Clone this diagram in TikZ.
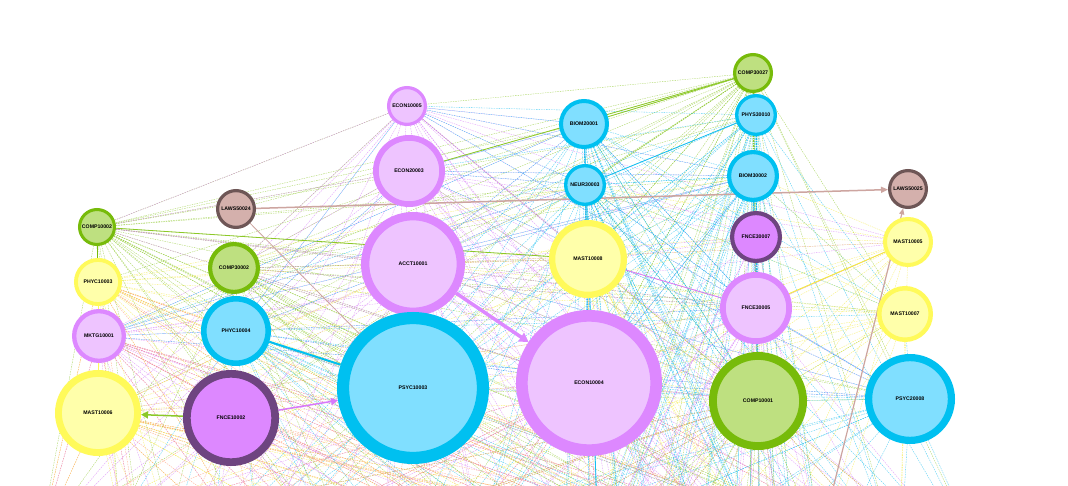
\documentclass[tikz,border=0pt]{standalone}
\usepackage{fontspec}
\setmainfont{Liberation Sans}
\usetikzlibrary{arrows.meta}
\pgfdeclarelayer{bg}
\pgfsetlayers{bg,main}
\definecolor{grF}{RGB}{190,224,128}\definecolor{grS}{RGB}{119,187,10}
\definecolor{yeF}{RGB}{255,255,170}\definecolor{yeS}{RGB}{255,250,90}
\definecolor{puF}{RGB}{238,196,255}\definecolor{puS}{RGB}{221,136,255}
\definecolor{blF}{RGB}{128,223,255}\definecolor{blS}{RGB}{0,192,240}
\definecolor{brF}{RGB}{212,176,172}\definecolor{brS}{RGB}{110,86,86}
\definecolor{dpF}{RGB}{221,136,255}\definecolor{dpS}{RGB}{110,68,128}
\definecolor{eGr}{RGB}{140,200,40}
\definecolor{ePu}{RGB}{215,120,250}
\definecolor{eBl}{RGB}{20,190,240}
\definecolor{eYe}{RGB}{245,235,60}
\definecolor{eOr}{RGB}{255,150,110}
\definecolor{eBr}{RGB}{205,165,160}
\newcommand\cnode[6]{\node[circle,inner sep=0pt,#5,line width={0.16*#4},minimum size={1.84*#4},font=\fontsize{5.2}{6}\selectfont\bfseries] (#1) at (#2,#3) {#6};}
\begin{document}
\begin{tikzpicture}[x=1pt,y=-1pt,
  gr/.style={fill=grF,draw=grS}, ye/.style={fill=yeF,draw=yeS},
  pu/.style={fill=puF,draw=puS}, bl/.style={fill=blF,draw=blS},
  br/.style={fill=brF,draw=brS}, dp/.style={fill=dpF,draw=dpS},
  de/.style={line width=0.35pt,dash pattern=on 1.5pt off 1pt,opacity=0.75},
  se/.style={line width=0.8pt}]
\useasboundingbox (0,0) rectangle (1068,486);
% nodes
\cnode{comp10002}{97}{227}{19}{gr}{COMP10002}
\cnode{phyc10003}{98}{282}{24}{ye}{PHYC10003}
\cnode{mktg}{99}{336}{27}{pu}{MKTG10001}
\cnode{mast6}{98}{413}{43}{ye}{MAST10006}
\cnode{laws24}{236}{209}{20}{br}{LAWS50024}
\cnode{comp30002}{234}{268}{26}{gr}{COMP30002}
\cnode{phyc4}{236}{331}{35}{bl}{PHYC10004}
\cnode{fnce2}{231}{418}{48}{dp}{FNCE10002}
\cnode{econ5}{407}{106}{20}{pu}{ECON10005}
\cnode{econ3}{409}{171}{36}{pu}{ECON20003}
\cnode{acct}{413}{264}{52}{pu}{ACCT10001}
\cnode{psyc3}{413}{388}{76}{bl}{PSYC10003}
\cnode{biom1}{584}{124}{25}{bl}{BIOM20001}
\cnode{neur}{585}{185}{21}{bl}{NEUR30003}
\cnode{mast8}{588}{259}{39}{ye}{MAST10008}
\cnode{econ4}{589}{383}{73}{pu}{ECON10004}
\cnode{comp27}{753}{73}{20}{gr}{COMP30027}
\cnode{phys}{756}{115}{21}{bl}{PHYS30010}
\cnode{biom2}{753}{176}{26}{bl}{BIOM30002}
\cnode{fnce7}{756}{237}{26}{dp}{FNCE30007}
\cnode{fnce5}{756}{308}{36}{pu}{FNCE30005}
\cnode{comp1}{758}{401}{49}{gr}{COMP10001}
\cnode{laws25}{908}{189}{20}{br}{LAWS50025}
\cnode{mast5}{908}{242}{25}{ye}{MAST10005}
\cnode{mast7}{905}{314}{28}{ye}{MAST10007}
\cnode{psyc8}{910}{399}{45}{bl}{PSYC20008}
% off-view endpoints
\coordinate (o1) at (40,540);  \coordinate (o2) at (150,600);
\coordinate (o3) at (260,560); \coordinate (o4) at (380,620);
\coordinate (o5) at (480,540); \coordinate (o6) at (600,600);
\coordinate (o7) at (700,540); \coordinate (o8) at (800,620);
\coordinate (o9) at (900,560); \coordinate (o10) at (1000,600);
\coordinate (o11) at (620,520); \coordinate (o12) at (760,560);
\coordinate (p1) at (560,620); \coordinate (p2) at (590,560);
\coordinate (p3) at (630,640); \coordinate (p4) at (660,580);
\coordinate (p5) at (730,620); \coordinate (p6) at (750,520);
\coordinate (p7) at (780,600); \coordinate (p8) at (820,540);
\coordinate (p9) at (120,520); \coordinate (p10) at (200,640);
\coordinate (p11) at (330,540); \coordinate (p12) at (440,600);
\begin{pgfonlayer}{bg}
\fill[white] (0,0) rectangle (1068,486);
\clip (0,0) rectangle (1068,486);
% green dashed
\foreach \s in {comp10002,comp30002,comp27,comp1}
  \foreach \t in {econ5,econ3,acct,psyc3,biom1,neur,mast8,econ4,phys,biom2,fnce5,mast7,psyc8,o1,o2,o3,o4,o5,o6,o7,o8,o9,o10,o11,o12}
    \draw[de,eGr] (\s) -- (\t);
\foreach \t in {laws24,comp10002,phyc4,fnce2,mast6,mktg,phyc10003}
  \draw[de,eGr] (comp27) -- (\t);
% purple dashed
\foreach \s in {econ5,econ3,acct,econ4,mktg,fnce5}
  \foreach \t in {comp10002,comp30002,phyc4,biom1,neur,mast8,biom2,fnce7,comp1,mast5,psyc8,mast6,o1,o2,o3,o4,o5,o6,o7,o8,o9,o10,o11,o12}
    \draw[de,ePu] (\s) -- (\t);
% blue dashed
\foreach \s in {biom1,neur,phys,biom2,phyc4,psyc8}
  \foreach \t in {econ5,econ3,acct,psyc3,econ4,comp1,fnce5,mast7,mktg,o2,o3,o4,o5,o6,o7,o8,o9,o10,o11,o12}
    \draw[de,eBl] (\s) -- (\t);
% yellow dashed
\foreach \s in {mast5,mast7,mast8,mast6,phyc10003}
  \foreach \t in {comp1,fnce5,econ4,psyc3,acct,biom2,fnce7,neur,o1,o3,o5,o7,o8,o9,o11,o12}
    \draw[de,eYe] (\s) -- (\t);
% orange dashed
\foreach \s in {mast6,mktg,fnce2,phyc10003,comp1,econ4,psyc3}
  \foreach \t in {o1,o2,o3,o4,o5,o6,o7,o8,o9,o10}
    \draw[de,eOr] (\s) -- (\t);
% dense column bundles
\foreach \s/\c in {biom1/eBl,neur/eBl,mast8/eYe,econ4/ePu,phys/eBl,biom2/eBl,fnce7/ePu,fnce5/ePu,comp27/eGr,comp1/eGr}
  \foreach \t in {p1,p2,p3,p4,p5,p6,p7,p8}
    \draw[de,\c] (\s) -- (\t);
\foreach \s/\c in {comp10002/eGr,comp30002/eGr,mast6/eYe,mktg/ePu,phyc10003/eYe,fnce2/ePu,phyc4/eBl,acct/ePu}
  \foreach \t in {p9,p10,p11,p12,p1,p2}
    \draw[de,\c] (\s) -- (\t);
\foreach \s/\c in {biom1/eBl,neur/eBl,phys/eBl,biom2/eBl,comp27/eGr}
  \foreach \t in {neur,mast8,econ4,biom2,fnce7,fnce5,comp1}
    \draw[de,\c] (\s) -- (\t);
% solid edges
\draw[se,grS] (comp10002) -- (phyc10003);
\draw[se,yeS] (phyc10003) -- (mktg);
\draw[se,yeS] (mktg) -- (mast6);
\draw[se,eGr] (comp10002) -- (mast8);
\draw[se,eGr] (comp27) -- (biom1);
\draw[se,eGr] (comp27) -- (econ3);
\draw[se,eBl] (phys) -- (neur);
\draw[se,eBl] (biom1) -- (o6);
\draw[se,eBr] (laws24) -- (psyc3);
\draw[se,ePu] (mast8) -- (fnce5);
\draw[se,eYe] (mast5) -- (fnce5);
\draw[line width=2pt,blS] (phyc4) -- (psyc3);
\draw[line width=1.5pt,eBr,-{Triangle[length=7pt,width=6pt]}] (laws24) -- (laws25);
\draw[line width=1.2pt,eBr,-{Triangle[length=6pt,width=5pt]}] (o8) -- (laws25);
\draw[line width=1.5pt,eGr,-{Triangle[length=7pt,width=7pt]}] (fnce2) -- (mast6);
\draw[line width=1.5pt,ePu,-{Triangle[length=7pt,width=7pt]}] (fnce2) -- (psyc3);
\draw[line width=3.5pt,puS,-{Triangle[length=9pt,width=10pt]}] (acct) -- (econ4);
\end{pgfonlayer}
\end{tikzpicture}
\end{document}
